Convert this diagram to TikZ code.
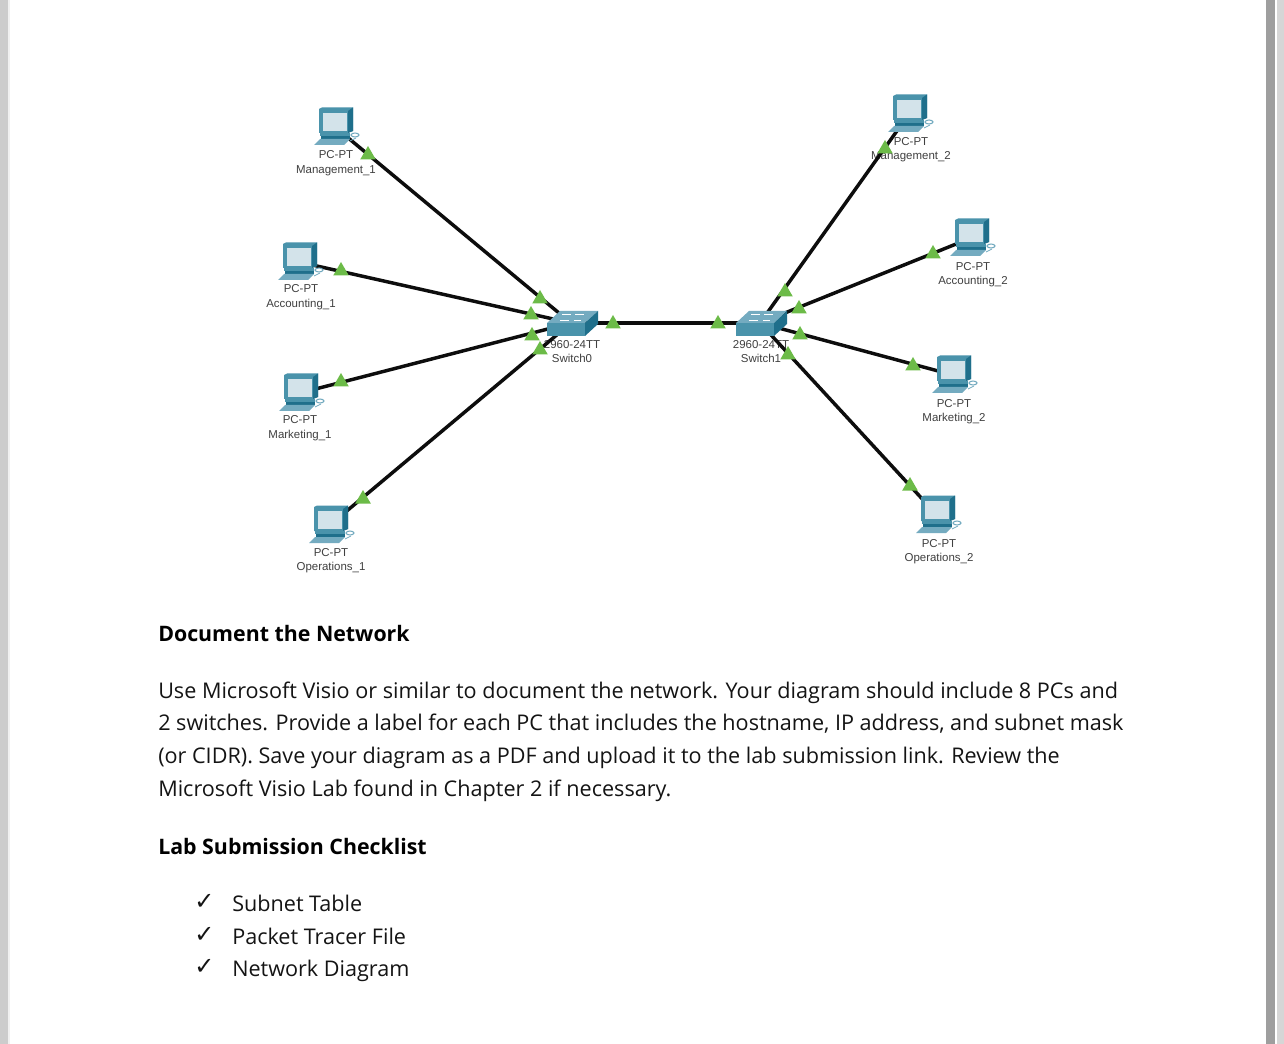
\documentclass[tikz,border=0pt]{standalone}
\usepackage{fontspec}
\setmainfont{Open Sans}
\newfontfamily\labelfont{Liberation Sans}
\newfontfamily\checkfont{DejaVu Sans}
\usetikzlibrary{shapes.geometric}
\definecolor{iconbody}{HTML}{4A93AB}
\definecolor{icondark}{HTML}{1F6F8B}
\definecolor{iconpale}{HTML}{D3E3EA}
\definecolor{iconlight}{HTML}{74ABC0}
\definecolor{linkgreen}{HTML}{6CBB48}
\tikzset{
  devlabel/.style={font=\labelfont\fontsize{8.6}{10.9}\selectfont, align=center, text=black!75, inner sep=0pt},
  link/.style={line width=2.6pt, black!95},
  porttri/.style={regular polygon, regular polygon sides=3, fill=linkgreen, inner sep=0pt, minimum size=13.5pt},
  bodytext/.style={font=\fontsize{16.2}{24.5}\selectfont, align=left, anchor=base west, inner sep=0pt, text=black!92},
  headtext/.style={font=\bfseries\fontsize{16}{24.5}\selectfont, anchor=base west, inner sep=0pt},
  pcicon/.pic={
    \fill[iconbody] (-16,-18) -- (-13,-19.5) -- (18,-19.5) -- (18,4) -- (13,6) -- (-16,6) -- cycle;
    \fill[icondark] (13,-16) -- (18,-19.5) -- (18,4) -- (13,6) -- cycle;
    \fill[iconpale] (-12,-14) rectangle (12,4);
    \fill[iconbody] (-15,6) rectangle (15,9);
    \fill[icondark] (-14,9) rectangle (15,12);
    \fill[iconlight] (-21,18) -- (-15,12) -- (15,12) -- (9,18) -- cycle;
    \draw[iconlight, line width=0.8pt, fill=white] (20,8) ellipse (4 and 2);
    \draw[iconlight, line width=0.6pt] (15,14) -- (21,11);
  },
  swicon/.pic={
    \fill[iconlight] (-24,0) -- (-11,-12) -- (27,-12) -- (14,0) -- cycle;
    \fill[iconbody] (-24,0) rectangle (14,13);
    \fill[icondark] (14,0) -- (27,-12) -- (27,1) -- (14,13) -- cycle;
    \draw[white, line width=0.5pt] (-11,-3) -- (-2,-3) (-9,-9) -- (0,-9) (4,-9) -- (13,-9) (3,-3) -- (10,-3);
  }
}
\begin{document}
\begin{tikzpicture}[x=0.75pt, y=-0.75pt]
  \useasboundingbox (0,0) rectangle (1284,1044);
  \fill[white] (0,0) rectangle (1284,1044);
  % window edges
  \fill[black!20] (0,0) rectangle (8,1044);
  \fill[black!6] (8,0) rectangle (10,1044);
  \fill[black!38] (1266,0) rectangle (1275,1044);
  \fill[black!16] (1277,0) rectangle (1284,1044);

  \coordinate (sw0) at (571,323);
  \coordinate (sw1) at (760,323);
  \coordinate (man1) at (335,127);
  \coordinate (acc1) at (299,262);
  \coordinate (mar1) at (300,393);
  \coordinate (ope1) at (330,525);
  \coordinate (man2) at (909,114);
  \coordinate (acc2) at (971,238);
  \coordinate (mar2) at (953,375);
  \coordinate (ope2) at (937,515);

  % labels sit under the links
  \node[devlabel] (lman1) at (336,163) {PC-PT\\Management\_1};
  \node[devlabel] (lacc1) at (301,297) {PC-PT\\Accounting\_1};
  \node[devlabel] (lmar1) at (300,428) {PC-PT\\Marketing\_1};
  \node[devlabel] (lope1) at (331,560.5) {PC-PT\\Operations\_1};
  \node[devlabel] (lman2) at (911,149.5) {PC-PT\\Management\_2};
  \node[devlabel] (lacc2) at (973,274.5) {PC-PT\\Accounting\_2};
  \node[devlabel] (lmar2) at (954,411.5) {PC-PT\\Marketing\_2};
  \node[devlabel] (lope2) at (939,551.5) {PC-PT\\Operations\_2};
  \node[devlabel] (lsw0) at (572,351.5) {2960-24TT\\Switch0};
  \node[devlabel] (lsw1) at (761,351.5) {2960-24TT\\Switch1};

  \draw[link] (sw0) -- (sw1);
  \foreach \pc in {man1, acc1, mar1, ope1}
    \draw[link] (\pc) -- (sw0);
  \foreach \pc in {man2, acc2, mar2, ope2}
    \draw[link] (\pc) -- (sw1);

  \foreach \pc in {man1, acc1, mar1, ope1, man2, acc2, mar2, ope2}
    \pic at (\pc) {pcicon};
  \pic at (sw0) {swicon};
  \pic at (sw1) {swicon};

  % link lights
  \foreach \tn/\tx/\ty in {t1/368/155, t2/341/271, t3/341/382, t4/363/499, t5/540/299, t6/531/315, t7/532/336, t8/540/350,
    t9/613/324, t10/718/324, t11/785/292, t12/799/309, t13/800/335, t14/788/355, t15/885/149, t16/933/254, t17/913/366, t18/910/486}
    \node[porttri] (\tn) at (\tx,\ty) {};

  \node[headtext] (doc) at (158,641) {Document the Network};
  \node[bodytext] (para) at (158,796) {Use Microsoft Visio or similar to document the network. Your diagram should include 8 PCs and\\
    2 switches. Provide a label for each PC that includes the hostname, IP address, and subnet mask\\
    (or CIDR). Save your diagram as a PDF and upload it to the lab submission link. Review the\\
    Microsoft Visio Lab found in Chapter 2 if necessary.};
  \node[headtext] (lab) at (158,854) {Lab Submission Checklist};
  \foreach \cn/\cy/\ctext in {c1/911/Subnet Table, c2/944/Packet Tracer File, c3/976/Network Diagram} {
    \node[bodytext, font=\checkfont\fontsize{18}{18}\selectfont] (\cn) at (194,\cy-2) {✓};
    \node[bodytext] (i\cn) at (232,\cy) {\ctext};
  }
\end{tikzpicture}
\end{document}
